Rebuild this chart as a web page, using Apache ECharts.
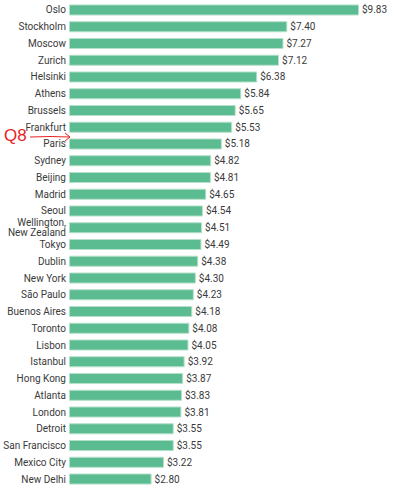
<!DOCTYPE html>
<html><head><meta charset="utf-8">
<script src="https://cdn.jsdelivr.net/npm/echarts@6/dist/echarts.min.js"></script>
<style>html,body{margin:0;padding:0;background:#fff}#c{width:400px;height:490px}</style>
</head><body><div id="c"></div>
<script>
const cities = ["Oslo","Stockholm","Moscow","Zurich","Helsinki","Athens","Brussels","Frankfurt","Paris","Sydney","Beijing","Madrid","Seoul","Wellington,\nNew Zealand","Tokyo","Dublin","New York","São Paulo","Buenos Aires","Toronto","Lisbon","Istanbul","Hong Kong","Atlanta","London","Detroit","San Francisco","Mexico City","New Delhi"];
const prices = [9.83,7.40,7.27,7.12,6.38,5.84,5.65,5.53,5.18,4.82,4.81,4.65,4.54,4.51,4.49,4.38,4.30,4.23,4.18,4.08,4.05,3.92,3.87,3.83,3.81,3.55,3.55,3.22,2.80];
const FONT = 'Roboto, sans-serif';
const chart = echarts.init(document.getElementById('c'), null, {renderer:'svg'});
chart.setOption({
  animation:false,
  grid:{left:69,right:6.5,top:1.6,bottom:2.6,containLabel:false},
  xAxis:{type:'value',min:0,max:11,show:false},
  yAxis:{type:'category',inverse:true,data:cities,
    axisLine:{show:false},axisTick:{show:false},
    axisLabel:{color:'#3a3a3a',fontSize:10,fontFamily:FONT,margin:3,lineHeight:10.5}},
  series:[{type:'bar',data:prices,barCategoryGap:'34%',
    itemStyle:{color:'#5bbb91',borderColor:'#b5e0cb',borderWidth:1},
    label:{show:true,position:'right',distance:3,color:'#3a3a3a',fontSize:10,fontFamily:FONT,
      formatter:p=>'$'+p.value.toFixed(2)}}],
  graphic:[
    {type:'text',left:4,top:127,style:{text:'Q8',fill:'#e8231f',fontSize:17,fontFamily:'Liberation Sans, Arial, sans-serif'}},
    {type:'polyline',shape:{points:[[30,137],[50,136.5],[70,137]]},style:{stroke:'#e8231f',lineWidth:1,fill:null}},
    {type:'polyline',shape:{points:[[65,133],[70,137],[65,141]]},style:{stroke:'#e8231f',lineWidth:1,fill:null}}
  ]
});
</script></body></html>
